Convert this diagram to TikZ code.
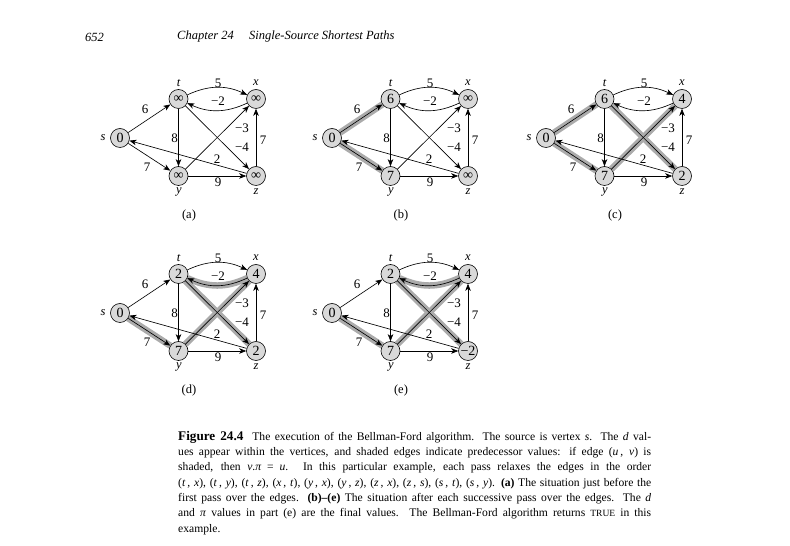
\documentclass[tikz,border=0pt]{standalone}
\usepackage{fontspec}
\setmainfont{Liberation Serif}
\usetikzlibrary{arrows.meta}
\pgfdeclarelayer{background}
\pgfdeclarelayer{paper}
\pgfsetlayers{paper,background,main}
\tikzset{
  vtx/.style={circle,draw=black,line width=0.6pt,fill=black!15,minimum size=19pt,inner sep=0pt,font=\fontsize{14}{14}\selectfont},
  vlab/.style={inner sep=0pt,font=\fontsize{12.5}{12.5}\selectfont\itshape},
  elab/.style={inner sep=0pt,font=\fontsize{13}{13}\selectfont},
  bfedge/.style={draw=black,line width=0.65pt,-{Stealth[length=7pt,width=5.5pt,inset=2pt]}},
  shadeedge/.style={draw=black!33,line width=6.5pt},
  subcap/.style={inner sep=0pt,font=\fontsize{12.5}{12.5}\selectfont},
  hdr/.style={inner sep=0pt,anchor=west,font=\fontsize{12.5}{12.5}\selectfont\itshape}
}
\newcommand\shd[3][]{\draw[shadeedge,#1] (\pf-#2) to (\pf-#3);}
\newcommand\bfgraph[9]{%
\begin{scope}[shift={#2}]
\node[vtx] (#1-s) at (120,408) {#3};
\node[vtx] (#1-t) at (178.5,447) {#4};
\node[vtx] (#1-x) at (256,447) {#5};
\node[vtx] (#1-y) at (178.5,370) {#6};
\node[vtx] (#1-z) at (256,370) {#7};
\node[vlab] (#1-ls) at (103,408) {s};
\node[vlab] (#1-lt) at (178.5,463) {t};
\node[vlab] (#1-lx) at (256,463) {x};
\node[vlab] (#1-ly) at (179,354) {y};
\node[vlab] (#1-lz) at (256,354) {z};
\draw[bfedge] (#1-s) -- (#1-t);
\draw[bfedge] (#1-s) -- (#1-y);
\draw[bfedge] (#1-t) to[bend left=25] (#1-x);
\draw[bfedge] (#1-x) to[bend left=25] (#1-t);
\draw[bfedge] (#1-t) -- (#1-y);
\draw[bfedge] (#1-t) -- (#1-z);
\draw[bfedge] (#1-y) -- (#1-x);
\draw[bfedge] (#1-y) -- (#1-z);
\draw[bfedge] (#1-z) -- (#1-x);
\draw[bfedge] (#1-z) -- (#1-s);
\node[elab] (#1-w1) at (145,437) {6};
\node[elab] (#1-w2) at (147,379) {7};
\node[elab] (#1-w3) at (218,463) {5};
\node[elab] (#1-w4) at (218,445) {−2};
\node[elab] (#1-w5) at (174.5,407.5) {8};
\node[elab] (#1-w6) at (242,418) {−3};
\node[elab] (#1-w7) at (242,399) {−4};
\node[elab] (#1-w8) at (263,406) {7};
\node[elab] (#1-w9) at (217,387) {2};
\node[elab] (#1-w10) at (218,364) {9};
\def\pf{#1}%
\begin{pgfonlayer}{background}#8\end{pgfonlayer}
\node[subcap] (#1-cap) at (189,331) {(#9)};
\end{scope}}
\begin{document}
\begin{tikzpicture}[x=1pt,y=1pt]
\begin{pgfonlayer}{paper}
\fill[white] (0,0) rectangle (790,546);
\end{pgfonlayer}
\useasboundingbox (0,0) rectangle (790,546);
\node[hdr] (pg) at (85,509) {652};
\node[hdr] (ch) at (177,509) {Chapter 24};
\node[hdr] (ti) at (249,509) {Single-Source Shortest Paths};
\bfgraph{a}{(0,0)}{0}{∞}{∞}{∞}{∞}{}{a}
\bfgraph{b}{(212,0)}{0}{6}{∞}{7}{∞}{\shd{s}{t}\shd{s}{y}}{b}
\bfgraph{c}{(426,0)}{0}{6}{4}{7}{2}{\shd{s}{t}\shd{s}{y}\shd{y}{x}\shd{t}{z}}{c}
\bfgraph{d}{(0,-175)}{0}{2}{4}{7}{2}{\shd{s}{y}\shd{y}{x}\shd[bend left=25]{x}{t}\shd{t}{z}}{d}
\bfgraph{e}{(212,-175)}{0}{2}{4}{7}{−2}{\shd{s}{y}\shd{y}{x}\shd[bend left=25]{x}{t}\shd{t}{z}}{e}
\node[anchor=north west,inner sep=0pt,text width=473pt,align=justify,
  font=\fontsize{11.6}{15.3}\selectfont] (caption) at (178,115) {%
{\fontsize{13.2}{15.3}\selectfont\bfseries Figure 24.4}\hspace{9pt}The execution of the Bellman-Ford algorithm. The source is vertex \textit{s}. The \textit{d} val-\linebreak
ues appear within the vertices, and shaded edges indicate predecessor values: if edge (\textit{u}\,, \textit{v}) is\linebreak
shaded, then \textit{v}.\textit{π}\enspace=\enspace\textit{u}. In this particular example, each pass relaxes the edges in the order\linebreak
(\textit{t}\,, \textit{x}), (\textit{t}\,, \textit{y}), (\textit{t}\,, \textit{z}), (\textit{x}\,, \textit{t}), (\textit{y}\,, \textit{x}), (\textit{y}\,, \textit{z}), (\textit{z}\,, \textit{x}), (\textit{z}\,, \textit{s}), (\textit{s}\,, \textit{t}), (\textit{s}\,, \textit{y}). \textbf{(a)} The situation just before the\linebreak
first pass over the edges. \textbf{(b)–(e)} The situation after each successive pass over the edges. The \textit{d}\linebreak
and \textit{π} values in part (e) are the final values. The Bellman-Ford algorithm returns {\fontsize{9.5}{9.5}\selectfont TRUE} in this\linebreak
example.};
\end{tikzpicture}
\end{document}
